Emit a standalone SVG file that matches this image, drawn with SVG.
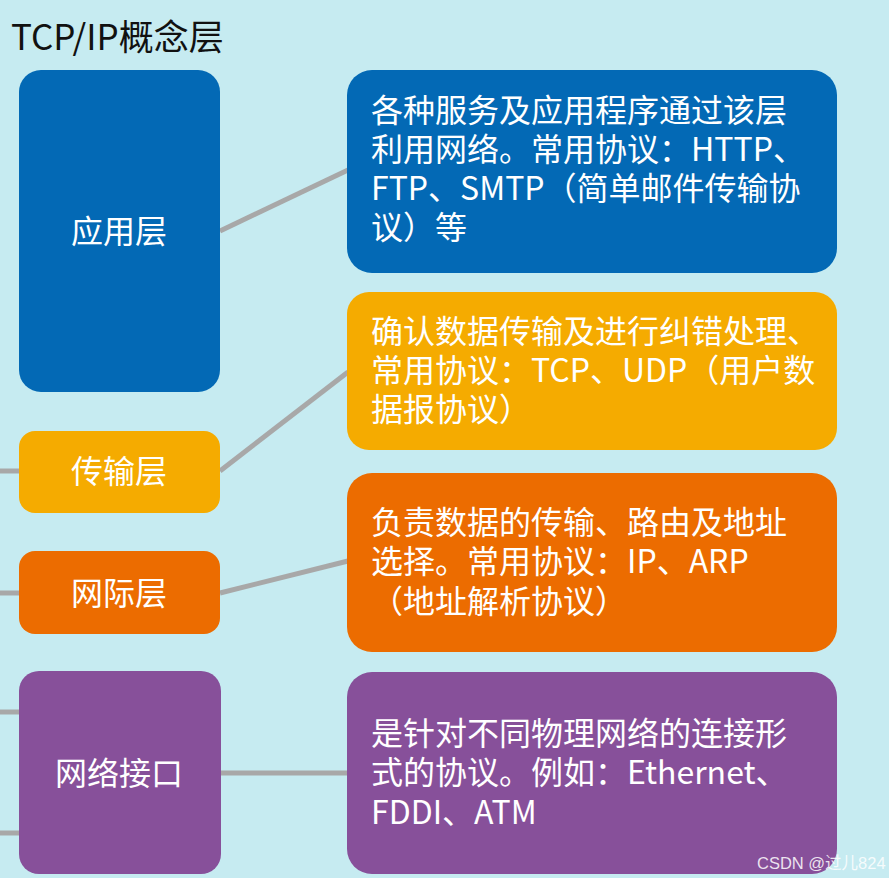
<svg xmlns="http://www.w3.org/2000/svg" width="889" height="878" viewBox="0 0 889 878">
<style>
.t{font-family:"Noto Sans CJK SC","Noto Sans",sans-serif;font-size:32px;fill:#ffffff}
.c{text-anchor:middle}
.title{font-family:"Noto Sans CJK SC","Noto Sans",sans-serif;font-size:35px;fill:#111111}
.ln{stroke:#a8a8a8;stroke-width:5;fill:none}
.wm{font-family:"Liberation Sans","Noto Sans CJK SC",sans-serif;font-size:16.5px;fill:#ffffff;fill-opacity:0.85}
</style>
<rect x="0" y="0" width="889" height="878" fill="#c6ebf1"/>
<text class="title" x="11" y="50">TCP/IP概念层</text>
<g id="connectors">
<line class="ln" x1="220" y1="231" x2="348" y2="170"/>
<line class="ln" x1="220" y1="471" x2="348" y2="372"/>
<line class="ln" x1="220" y1="593" x2="348" y2="561"/>
<line class="ln" x1="220" y1="773" x2="348" y2="773"/>
<line class="ln" x1="0" y1="471" x2="19" y2="471"/>
<line class="ln" x1="0" y1="593" x2="19" y2="593"/>
<line class="ln" x1="0" y1="712" x2="19" y2="712"/>
<line class="ln" x1="0" y1="833" x2="19" y2="833"/>
</g>
<g id="app">
<rect x="19" y="70" width="201" height="322" rx="22" fill="#0369b5"/>
<text class="t c" x="119" y="243">应用层</text>
</g>
<g id="transport">
<rect x="19" y="431" width="201" height="82" rx="16" fill="#f5ab00"/>
<text class="t c" x="119" y="483">传输层</text>
</g>
<g id="internet">
<rect x="19" y="551" width="201" height="83" rx="16" fill="#ec6c00"/>
<text class="t c" x="119" y="605">网际层</text>
</g>
<g id="netif">
<rect x="19" y="671" width="202" height="203" rx="20" fill="#87509a"/>
<text class="t c" x="119" y="785">网络接口</text>
</g>
<g id="app-desc">
<rect x="347" y="70" width="490" height="203" rx="25" fill="#0369b5"/>
<text class="t"><tspan x="371" y="122">各种服务及应用程序通过该层</tspan><tspan x="371" y="161">利用网络。常用协议：HTTP、</tspan><tspan x="371" y="200">FTP、SMTP（简单邮件传输协</tspan><tspan x="371" y="239">议）等</tspan></text>
</g>
<g id="transport-desc">
<rect x="347" y="292" width="490" height="158" rx="22" fill="#f5ab00"/>
<text class="t"><tspan x="371" y="343">确认数据传输及进行纠错处理、</tspan><tspan x="371" y="382">常用协议：TCP、UDP（用户数</tspan><tspan x="371" y="421">据报协议）</tspan></text>
</g>
<g id="internet-desc">
<rect x="347" y="473" width="490" height="179" rx="25" fill="#ec6c00"/>
<text class="t"><tspan x="371" y="534">负责数据的传输、路由及地址</tspan><tspan x="371" y="573">选择。常用协议：IP、ARP</tspan><tspan x="371" y="613">（地址解析协议）</tspan></text>
</g>
<g id="netif-desc">
<rect x="347" y="672" width="490" height="202" rx="25" fill="#87509a"/>
<text class="t"><tspan x="371" y="745">是针对不同物理网络的连接形</tspan><tspan x="371" y="784">式的协议。例如：Ethernet、</tspan><tspan x="371" y="824">FDDI、ATM</tspan></text>
</g>
<text class="wm" x="757" y="869">CSDN @过儿824</text>
</svg>
